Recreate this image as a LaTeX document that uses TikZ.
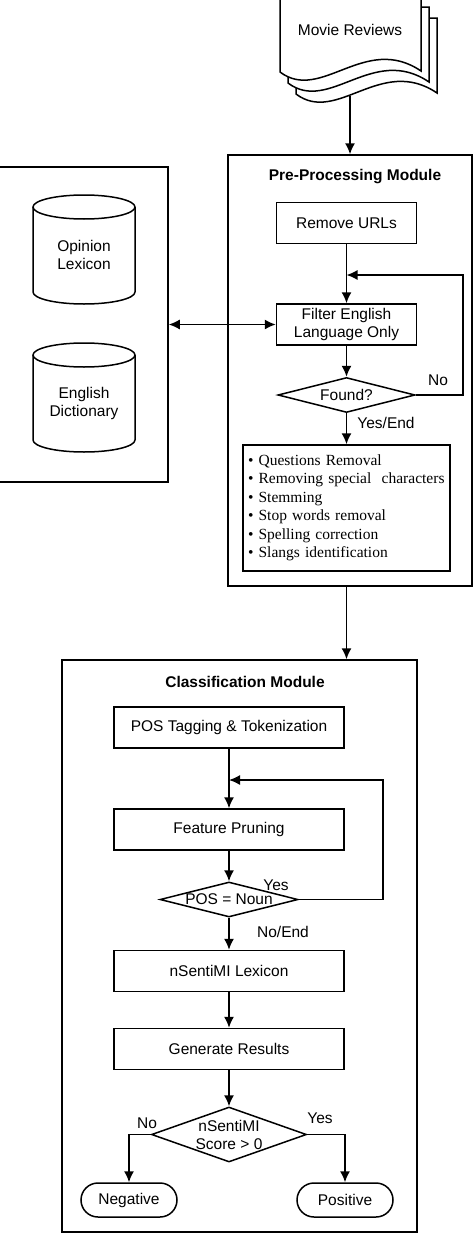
\documentclass[tikz,border=0pt]{standalone}
\usepackage{fontspec}
\setmainfont{Liberation Serif}
\setsansfont{Liberation Sans}
\usetikzlibrary{shapes.geometric}
\usetikzlibrary{arrows.meta}
\tikzset{
    every node/.style={font=\fontsize{15.5}{18}\selectfont\sffamily},
    titletext/.style={font=\fontsize{15.5}{18}\selectfont\sffamily\bfseries},
    stepbox/.style={draw, line width=1.5pt, minimum height=41pt, inner sep=0pt},
    modbox/.style={draw, line width=1.5pt, inner sep=0pt},
    decision/.style={draw, diamond, line width=1.5pt, inner sep=0pt},
    outcome/.style={draw, rounded corners=17pt, line width=1.5pt, minimum width=96pt, minimum height=34pt},
    flow/.style={line width=1.5pt, -{Latex[length=11pt,width=10pt]}},
    twoway/.style={line width=1.5pt, {Latex[length=11pt,width=10pt]}-{Latex[length=11pt,width=10pt]}}
}

\begin{document}
\begin{tikzpicture}[x=1pt,y=-1pt]
    \useasboundingbox (0,0) rectangle (474,1234);

    % Movie reviews (stacked pages)
    \foreach \dx/\dy in {16/22,8/11,0/0}
        \filldraw[fill=white, line width=1.5pt, shift={(\dx,\dy)}] (280,-4) -- (421,-4) -- (421,71)
            .. controls (365,33) and (321,103) .. (280,72) -- cycle;
    \node (reviews) at (350,30) {Movie Reviews};
    \coordinate (docbot) at (350,96);

    % Pre-processing module
    \node[modbox, minimum width=244pt, minimum height=431pt] (prep) at (350,370.5) {};
    \node[titletext] (preptitle) at (355,177) {Pre-Processing Module};
    \node[stepbox, minimum width=140pt] (urls) at (346.5,223) {Remove URLs};
    \node[stepbox, minimum width=140pt, align=center] (filter) at (346.5,324.5) {Filter English\\Language Only};
    \node[decision, minimum width=137pt, minimum height=35pt, label={center:Found?}] (found) at (346.5,395) {};
    \node[draw, line width=1.5pt, text width=197pt, minimum height=126pt, inner xsep=5pt, align=left,
        font=\fontsize{15.5}{18.5}\selectfont\rmfamily] (cleaning) at (346.5,508) {%
        \textbullet\ Questions Removal\\
        \textbullet\ Removing special\ \ characters\\
        \textbullet\ Stemming\\
        \textbullet\ Stop words removal\\
        \textbullet\ Spelling correction\\
        \textbullet\ Slangs identification};

    % Lexicon resources
    \node[modbox, minimum width=173pt, minimum height=315pt] (lexbox) at (81.5,324.5) {};
    \foreach \cy in {195,343} {
        \draw[line width=1.5pt] (33,\cy+12) -- (33,\cy+97) arc[start angle=180, end angle=360, x radius=51pt, y radius=12pt]
            -- (135,\cy+12);
        \draw[line width=1.5pt] (84,\cy+12) ellipse[x radius=51pt, y radius=12pt];
    }
    \node[align=center] (opinion) at (84,255) {Opinion\\Lexicon};
    \node[align=center] (dict) at (84,403) {English\\Dictionary};

    % Classification module
    \node[modbox, minimum width=355pt, minimum height=572pt] (clas) at (239.5,946) {};
    \node[titletext] (clastitle) at (245,682) {Classification Module};
    \node[stepbox, minimum width=230pt] (tagging) at (229,727.5) {POS Tagging \& Tokenization};
    \node[stepbox, minimum width=230pt] (pruning) at (229,829.5) {Feature Pruning};
    \node[decision, minimum width=138pt, minimum height=35pt, label={center:POS = Noun}] (noun) at (229,899.5) {};
    \node[stepbox, minimum width=230pt] (nsenti) at (229,971) {nSentiMI Lexicon};
    \node[stepbox, minimum width=230pt] (results) at (229,1049) {Generate Results};
    \node[decision, minimum width=155pt, minimum height=55pt,
        label={[align=center]center:nSentiMI\\Score > 0}] (score) at (229,1134.5) {};
    \node[outcome] (negative) at (129,1200) {Negative};
    \node[outcome] (positive) at (345,1200) {Positive};

    % Connectors
    \draw[flow] (docbot) -- (docbot |- prep.north);
    \draw[flow] (urls) -- (filter);
    \draw[flow] (filter) -- (found);
    \draw[flow] (found) -- (cleaning);
    \coordinate (retry) at (463,275);
    \draw[flow] (found.east) -| (retry) -- (retry -| urls);
    \draw[twoway] (lexbox.east) -- (filter.west);
    \draw[flow] (prep.south -| cleaning) -- (clas.north -| cleaning);
    \draw[flow] (tagging) -- (pruning);
    \draw[flow] (pruning) -- (noun);
    \coordinate (again) at (383,780);
    \draw[flow] (noun.east) -| (again) -- (again -| tagging);
    \draw[flow] (noun) -- (nsenti);
    \draw[flow] (nsenti) -- (results);
    \draw[flow] (results) -- (score);
    \draw[flow] (score.west) -| (negative.north);
    \draw[flow] (score.east) -| (positive.north);

    % Labels
    \node (foundno) at (438,380) {No};
    \node (foundyes) at (386,423) {Yes/End};
    \node (nounyes) at (276,885) {Yes};
    \node (nounno) at (283,932) {No/End};
    \node (scoreno) at (147,1123) {No};
    \node (scoreyes) at (320,1118) {Yes};
\end{tikzpicture}
\end{document}
